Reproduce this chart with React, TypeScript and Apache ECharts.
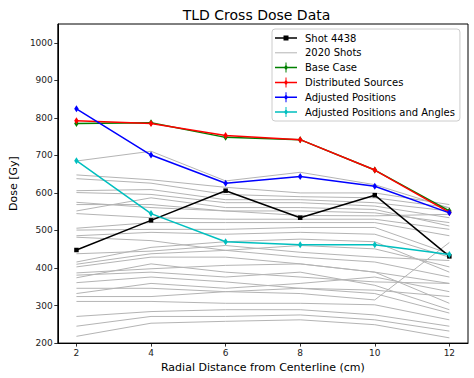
import React, { useEffect, useRef } from 'react';
import * as echarts from 'echarts';

const xs = [2, 4, 6, 8, 10, 12];
const xTicks = [2, 4, 6, 8, 10, 12];
const yTicks = [200, 300, 400, 500, 600, 700, 800, 900, 1000];

const shot4438 = [448, 527, 606, 534, 594, 431];
const baseCase = [785, 787, 748, 742, 661, 552];
const distributed = [792, 785, 753, 742, 661, 548];
const adjPos = [824, 701, 626, 644, 618, 547];
const adjPosAng = [686, 545, 470, 462, 462, 436];

const shots2020: number[][] = [
  [685, 711, 632, 655, 622, 560],
  [648, 635, 615, 600, 600, 569],
  [638, 626, 596, 590, 587, 561],
  [606, 609, 582, 582, 574, 552],
  [601, 596, 574, 574, 565, 534],
  [575, 561, 552, 540, 539, 543],
  [569, 569, 552, 552, 547, 521],
  [552, 587, 561, 561, 556, 512],
  [545, 534, 530, 530, 530, 503],
  [506, 521, 521, 521, 521, 486],
  [501, 503, 503, 508, 508, 438],
  [486, 495, 490, 495, 490, 429],
  [482, 473, 447, 460, 451, 403],
  [438, 445, 460, 442, 429, 420],
  [416, 455, 470, 477, 470, 389],
  [410, 438, 447, 429, 416, 376],
  [403, 429, 429, 411, 389, 359],
  [387, 398, 407, 411, 389, 306],
  [381, 389, 376, 389, 354, 289],
  [374, 411, 389, 376, 363, 359],
  [361, 376, 363, 346, 332, 280],
  [346, 346, 337, 332, 315, 468],
  [332, 359, 346, 359, 376, 337],
  [324, 324, 337, 346, 341, 324],
  [311, 311, 306, 306, 302, 262],
  [271, 284, 289, 289, 275, 245],
  [245, 271, 271, 275, 262, 232],
  [218, 253, 258, 262, 249, 214],
];

const FONT = 'DejaVu Sans';
const C_SHOT = '#000000';
const C_GRAY = '#b4b4b4';
const C_BASE = '#008000';
const C_DIST = '#ff0000';
const C_ADJ = '#0000ff';
const C_ANG = '#00bfbf';

const errIcon = 'path://M0 4.25H22V5.75H0Z M10.5 0H11.5V10H10.5Z M11 2L13 5L11 8L9 5Z';
const shotIcon = 'path://M0 4.25H22V5.75H0Z M8.5 2.5H13.5V7.5H8.5Z';
const grayIcon = 'path://M0 4.5H22V5.5H0Z';

const toPts = (vals: number[]) => xs.map((x, i) => [x, vals[i]]);

function buildOption() {
  const graySeries = shots2020.map((vals) => ({
    type: 'line',
    name: '2020 Shots',
    data: toPts(vals),
    showSymbol: false,
    symbol: 'none',
    lineStyle: { color: C_GRAY, width: 1 },
    itemStyle: { color: C_GRAY },
    silent: true,
    z: 1,
  }));
  const mk = (name: string, vals: number[], color: string, symbol: string, size: number[] | number, z: number) => ({
    type: 'line',
    name,
    data: toPts(vals),
    symbol,
    symbolSize: size,
    showSymbol: true,
    lineStyle: { color, width: 1.5 },
    itemStyle: { color, borderWidth: 0 },
    silent: true,
    z,
  });
  return {
    animation: false,
    backgroundColor: '#ffffff',
    textStyle: { fontFamily: FONT },
    graphic: [
      {
        type: 'text',
        x: 256.5,
        y: 15,
        style: {
          text: 'TLD Cross Dose Data',
          fontFamily: FONT,
          fontSize: 14,
          fill: '#000',
          textAlign: 'center',
          textVerticalAlign: 'middle',
        },
      },
    ],
    grid: {
      left: 45,
      right: 6,
      top: 24,
      bottom: 31,
      show: true,
      borderColor: '#000',
      borderWidth: 1,
      backgroundColor: 'transparent',
    },
    legend: {
      orient: 'vertical',
      left: 272,
      top: 29,
      padding: [4, 5, 4, 3],
      itemWidth: 22,
      itemHeight: 10,
      itemGap: 4.8,
      symbolKeepAspect: true,
      selectedMode: false,
      backgroundColor: 'rgba(255,255,255,0.85)',
      borderColor: '#cccccc',
      borderWidth: 1,
      borderRadius: 3,
      itemStyle: { borderWidth: 0 },
      textStyle: { fontFamily: FONT, fontSize: 10, color: '#000', padding: [0, 0, 0, 3] },
      data: [
        { name: 'Shot 4438', icon: shotIcon, itemStyle: { color: C_SHOT, borderWidth: 0 } },
        { name: '2020 Shots', icon: grayIcon, itemStyle: { color: C_GRAY, borderWidth: 0 } },
        { name: 'Base Case', icon: errIcon, itemStyle: { color: C_BASE, borderWidth: 0 } },
        { name: 'Distributed Sources', icon: errIcon, itemStyle: { color: C_DIST, borderWidth: 0 } },
        { name: 'Adjusted Positions', icon: errIcon, itemStyle: { color: C_ADJ, borderWidth: 0 } },
        { name: 'Adjusted Positions and Angles', icon: errIcon, itemStyle: { color: C_ANG, borderWidth: 0 } },
      ],
    },
    xAxis: {
      type: 'value',
      min: 1.5,
      max: 12.5,
      name: 'Radial Distance from Centerline (cm)',
      nameLocation: 'middle',
      nameGap: 15,
      nameTextStyle: { fontFamily: FONT, fontSize: 11, color: '#000' },
      axisLine: { show: true, lineStyle: { color: '#000', width: 1 } },
      axisTick: { show: true, length: 3.5, lineStyle: { color: '#000', width: 0.8 }, customValues: xTicks },
      axisLabel: { fontFamily: FONT, fontSize: 9, color: '#222', margin: 5, customValues: xTicks, formatter: (v: number) => String(v) },
      splitLine: { show: false },
    },
    yAxis: {
      type: 'value',
      min: 200,
      max: 1050,
      name: 'Dose [Gy]',
      nameLocation: 'middle',
      nameGap: 30,
      nameTextStyle: { fontFamily: FONT, fontSize: 11, color: '#000' },
      axisLine: { show: true, lineStyle: { color: '#000', width: 1 } },
      axisTick: { show: true, length: 3.5, lineStyle: { color: '#000', width: 0.8 }, customValues: yTicks },
      axisLabel: { fontFamily: FONT, fontSize: 9, color: '#222', margin: 5, customValues: yTicks, formatter: (v: number) => String(v) },
      splitLine: { show: false },
    },
    series: [
      ...graySeries,
      mk('Shot 4438', shot4438, C_SHOT, 'rect', 4.5, 5),
      mk('Base Case', baseCase, C_BASE, 'diamond', [4.5, 7], 6),
      mk('Distributed Sources', distributed, C_DIST, 'diamond', [4.5, 7], 7),
      mk('Adjusted Positions', adjPos, C_ADJ, 'diamond', [4.5, 7], 8),
      mk('Adjusted Positions and Angles', adjPosAng, C_ANG, 'diamond', [4.5, 7], 9),
    ],
  };
}

export default function App() {
  const ref = useRef<HTMLDivElement>(null);
  useEffect(() => {
    document.body.style.margin = '0';
    if (!ref.current) return;
    const chart = echarts.init(ref.current, null, { renderer: 'svg' });
    chart.setOption(buildOption() as any);
    return () => {
      chart.dispose();
    };
  }, []);
  return (
    <div
      ref={ref}
      style={{ width: 474, height: 378, position: 'absolute', left: 0, top: 0, background: '#fff' }}
    />
  );
}
